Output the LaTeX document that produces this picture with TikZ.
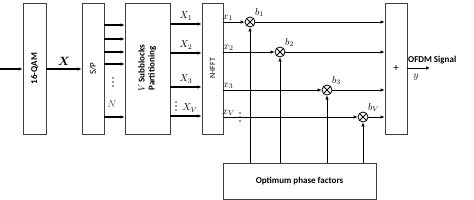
\documentclass[tikz,border=0pt]{standalone}
\usepackage{amsmath}
\usepackage{fontspec}
\setsansfont{Carlito}
\usepackage{tikz}
\usetikzlibrary{positioning,arrows.meta,calc}

\begin{document}
\begin{tikzpicture}[
  x=1pt, y=-1pt,
  font=\sffamily\bfseries\fontsize{9}{10}\selectfont,
  blk/.style={draw=black!75, line width=0.8pt, minimum height=131pt, inner sep=0pt},
  mult/.style={draw, circle, line width=0.8pt, minimum size=10pt, inner sep=0pt},
  arr/.style={-{Latex[length=4pt,width=3.5pt]}, line width=1.1pt},
  sig/.style={-{Latex[length=4pt,width=3.5pt]}, line width=0.7pt},
  lbl/.style={font=\normalfont\rmfamily\fontsize{10}{11}\selectfont, inner sep=1pt},
  vdot/.style={circle, fill=black!80, inner sep=0pt, minimum size=1.6pt}
]
\useasboundingbox (0,0) rectangle (474,200);
% blocks
\node[blk, minimum width=23pt] (qam) at (34.5,68.5) {\rotatebox{90}{16-QAM}};
\node[blk, minimum width=22pt] (sp) at (93,68.5) {\rotatebox{90}{\mdseries S/P}};
\node[blk, minimum width=45pt] (vsb) at (147.5,68.5) {\rotatebox{90}{\begin{tabular}{@{}c@{}}$V$ Subblocks\\Partitioning\end{tabular}}};
\node[blk, minimum width=21pt] (ifft) at (212.5,68.5) {\rotatebox{90}{\mdseries\fontsize{8}{9}\selectfont N-IFFT}};
\node[blk, minimum width=22pt] (sum) at (396,68.5) {\mdseries\fontsize{11}{11}\selectfont +};
\node[draw=black!75, line width=0.8pt, minimum width=153pt, minimum height=36pt] (phase) at (299.5,181) {Optimum phase factors};
% multipliers
\node[mult] (m1) at (250,22) {};
\node[mult] (m2) at (280,52) {};
\node[mult] (m3) at (327,90) {};
\node[mult] (m4) at (363,117) {};
\foreach \m in {m1,m2,m3,m4}
  \draw[line width=0.8pt] (\m.north east) -- (\m.south west) (\m.north west) -- (\m.south east);
% input side
\coordinate (in) at (0,69);
\draw[arr] (in) -- (in -| qam.west);
\draw[arr] (qam.east |- in) -- node[lbl, above=2pt, font=\normalfont\fontsize{13}{13}\selectfont] (xin) {$\boldsymbol{X}$} (sp.west |- in);
\foreach \y in {25,39,52,64,117}
  \draw[arr] (sp.east |- 0,\y) -- (vsb.west |- 0,\y);
\node[lbl, text=black!70] (nlbl) at (112,104) {$N$};
% subblocks to IFFT
\foreach \y/\t in {24/X_1,53/X_2,87/X_3}
  \draw[arr] (vsb.east |- 0,\y) -- node[lbl, above=2pt] {$\t$} (ifft.west |- 0,\y);
\draw[arr] (vsb.east |- 0,116) -- node[lbl, above=2pt, xshift=4pt] (xv) {$X_V$} (ifft.west |- 0,116);
% vertical dots
\foreach \cx/\cy in {113/78, 176/102, 240/113}
  \foreach \k in {0,4,8}
    \node[vdot] at (\cx,\cy+\k) {};
% IFFT outputs
\draw[sig] (ifft.east |- m1) -- node[lbl, above, pos=0.2] {$x_1$} (m1.west);
\draw[sig] (ifft.east |- m2) -- node[lbl, above, pos=0.1] {$x_2$} (m2.west);
\draw[sig] (ifft.east |- m3) -- node[lbl, above, pos=0.05] {$x_3$} (m3.west);
\draw[sig] (ifft.east |- m4) -- node[lbl, above, pos=0.04] {$x_V$} (m4.west);
% to summer
\foreach \m in {m1,m2,m3,m4}
  \draw[sig] (\m.east) -- (sum.west |- \m);
\node[lbl, anchor=south west] at (m1.north east) {$b_1$};
\node[lbl, anchor=south west] at (m2.north east) {$b_2$};
\node[lbl, anchor=south west] at (m3.north east) {$b_3$};
\node[lbl, anchor=south west] at (m4.north east) {$b_V$};
% phase factors
\foreach \m in {m1,m2,m3,m4}
  \draw[sig] (phase.north -| \m) -- (\m.south);
% output
\coordinate (out) at (430,68);
\draw[sig] (sum.east |- out) -- (out);
\node[anchor=south west, inner sep=1pt] (ofdm) at (407,65) {OFDM Signal};
\node[lbl] (ylbl) at (416,77) {$y$};
\end{tikzpicture}
\end{document}
